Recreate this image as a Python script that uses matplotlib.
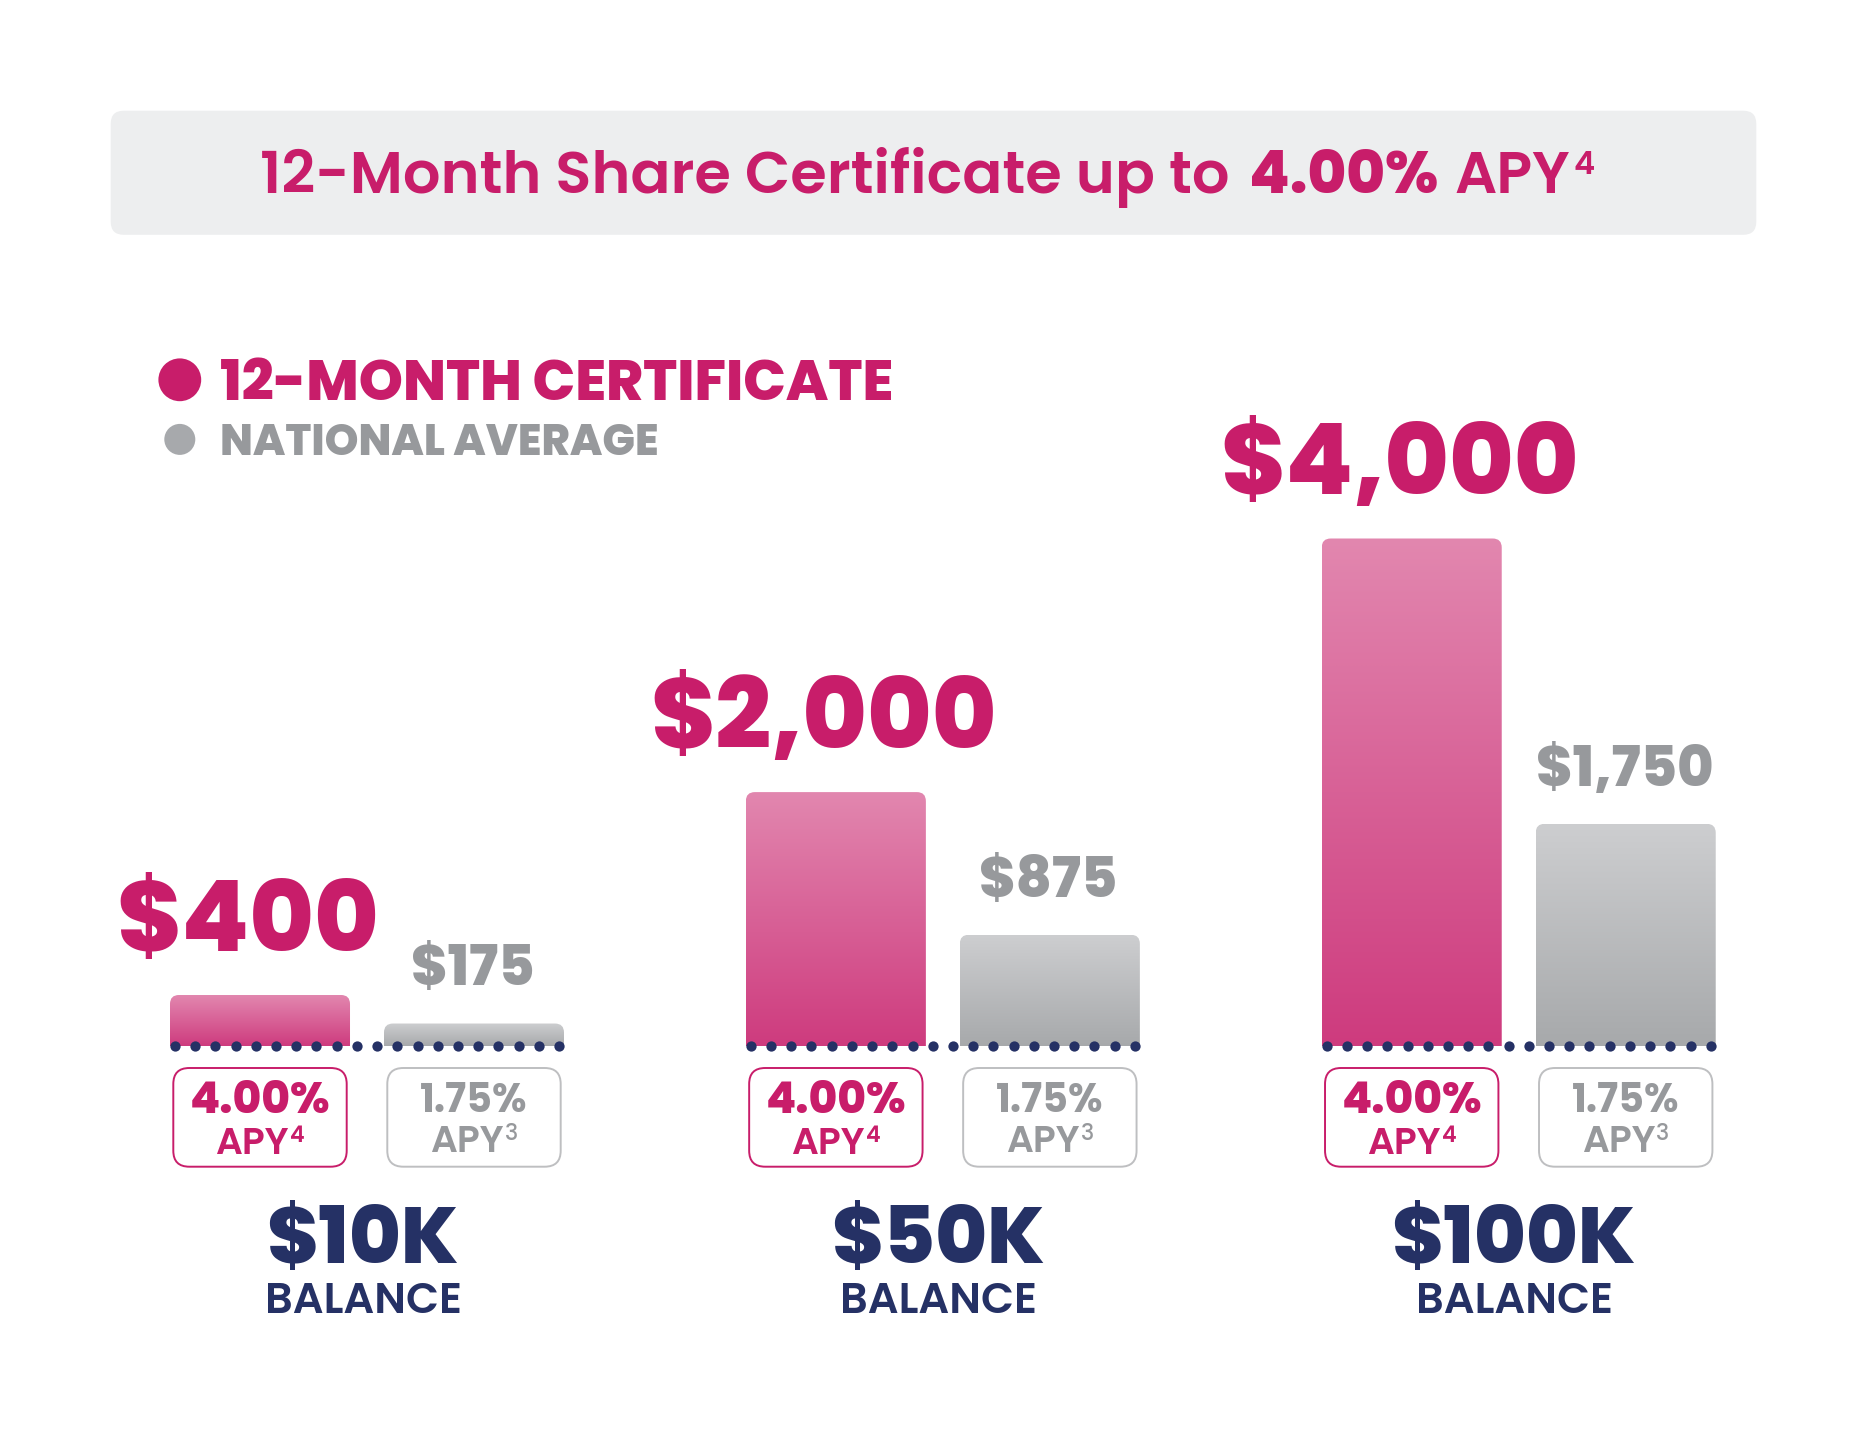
import numpy as np
import matplotlib
matplotlib.use("Agg")
import matplotlib.pyplot as plt
from matplotlib import font_manager as fm
from matplotlib.patches import FancyBboxPatch, Circle
from matplotlib.transforms import IdentityTransform
from matplotlib.colors import LinearSegmentedColormap

# ---------------- data ----------------
balances = ["$10K", "$50K", "$100K"]
cert_values = [400, 2000, 4000]
natl_values = [175, 875, 1750]
cert_labels = ["$400", "$2,000", "$4,000"]
natl_labels = ["$175", "$875", "$1,750"]
cert_rate = "4.00%"
natl_rate = "1.75%"
cert_note = "4"
natl_note = "3"
series_names = ["12-MONTH CERTIFICATE", "NATIONAL AVERAGE"]
title_main = "12-Month Share Certificate up to"
title_rate = "4.00%"
title_apy = "APY"
title_note = "4"
apy_word = "APY"
balance_word = "BALANCE"

# ---------------- style ----------------
MAGENTA = "#C81D6A"
NAVY = "#253165"
GRAY_TXT = "#97999C"
GRAY_DOT = "#A7A9AC"
GRAY_BOX = "#BEBFC1"
TITLE_BG = "#EDEEEF"
PINK_TOP, PINK_BOT = "#E287AF", "#CE3B7E"
GREY_TOP, GREY_BOT = "#CDCED0", "#A7A9AB"

names = {f.name for f in fm.fontManager.ttflist}
FAM = [f for f in ["Poppins", "Montserrat", "DejaVu Sans"] if f in names]

W, H = 1867, 1440
DPI = 100
fig = plt.figure(figsize=(W / DPI, H / DPI), dpi=DPI)
fig.patch.set_facecolor("white")
renderer = fig.canvas.get_renderer()
ID = IdentityTransform()


def ty(y_top):
    return H - y_top


def mk(s, size, weight, color):
    return fig.text(0, 0, s, transform=ID, fontsize=size, fontweight=weight,
                    color=color, family=FAM, ha="left", va="baseline")


def put_runs(x, y_top, runs, ha="center"):
    """Place differently styled pieces of one line side by side (ink widths)."""
    arts, widths = [], []
    for r in runs:
        t = mk(r["s"], r["size"], r.get("weight", "normal"), r["color"])
        arts.append(t)
        widths.append(t.get_window_extent(renderer).width)
    total = sum(widths) + sum(r.get("gap", 0) for r in runs[1:])
    cur = x - total / 2 if ha == "center" else x
    for i, (t, w, r) in enumerate(zip(arts, widths, runs)):
        if i > 0:
            cur += r.get("gap", 0)
        t.set_position((cur, ty(y_top) + r.get("dy", 0)))
        cur += w
    return total


# ---------------- title band ----------------
fig.add_artist(FancyBboxPatch((110.7, ty(234.8)), 1645.6, 124.1,
                              boxstyle="round,pad=0,rounding_size=13",
                              transform=ID, facecolor=TITLE_BG, edgecolor="none"))
put_runs(927.4, 192.7, [
    dict(s=title_main, size=42.5, weight=600, color=MAGENTA),
    dict(s=title_rate, size=42.5, weight=800, color=MAGENTA, gap=19),
    dict(s=title_apy, size=42.5, weight=600, color=MAGENTA, gap=17),
    dict(s=title_note, size=23, weight=600, color=MAGENTA, gap=3, dy=19),
])

# ---------------- legend ----------------
fig.add_artist(Circle((179.8, ty(379.8)), 21.4, transform=ID, facecolor=MAGENTA, edgecolor="none"))
fig.add_artist(Circle((179.8, ty(439.4)), 15.5, transform=ID, facecolor=GRAY_DOT, edgecolor="none"))
put_runs(220.3, 400.0, [dict(s=series_names[0], size=40.5, weight=800, color=MAGENTA)], ha="left")
put_runs(220.3, 454.8, [dict(s=series_names[1], size=31, weight=800, color=GRAY_TXT)], ha="left")

# ---------------- bars ----------------
ax = fig.add_axes([0, ty(1045.7) / H, 1, 1045.7 / H])
ax.axis("off")
XL = (-0.6373, 2.6048)
YL = (0, 1045.7 / 0.1268)
ax.set_xlim(*XL)
ax.set_ylim(*YL)

x = np.arange(len(balances))
off, bw = 0.1858, 0.3126
pbars = ax.bar(x - off, cert_values, bw, color="none", edgecolor="none")
gbars = ax.bar(x + off, natl_values, bw, color="none", edgecolor="none")

pxx = W / (XL[1] - XL[0])          # pixels per x unit
pxy = 1045.7 / (YL[1] - YL[0])     # pixels per y unit


def grad_bar(rect, c_top, c_bot):
    x0, w, h = rect.get_x(), rect.get_width(), rect.get_height()
    rpx = 9
    rx, ry = rpx / pxx, rpx / pxy
    patch = FancyBboxPatch((x0, -2 * ry), w, h + 2 * ry,
                           boxstyle=f"round,pad=0,rounding_size={rx}",
                           mutation_aspect=ry / rx, facecolor="none",
                           edgecolor="none", transform=ax.transData)
    ax.add_patch(patch)
    cmap = LinearSegmentedColormap.from_list("g", [c_bot, c_top])
    grad = np.linspace(0, 1, 256).reshape(-1, 1)
    im = ax.imshow(grad, cmap=cmap, extent=(x0, x0 + w, 0, h), origin="lower",
                   aspect="auto", interpolation="bilinear", zorder=2)
    im.set_clip_path(patch)


for r in pbars:
    grad_bar(r, PINK_TOP, PINK_BOT)
for r in gbars:
    grad_bar(r, GREY_TOP, GREY_BOT)
ax.set_xlim(*XL)
ax.set_ylim(*YL)

# dotted baseline
for i in range(len(balances)):
    left = pbars[i].get_x() + 5 / pxx
    right = gbars[i].get_x() + gbars[i].get_width() - 5 / pxx
    xs = np.linspace(left, right, 20)
    ax.plot(xs, np.zeros_like(xs), "o", ms=7.4, color=NAVY, mew=0,
            clip_on=False, zorder=4)

# value labels
for i in range(len(balances)):
    ax.annotate(cert_labels[i], xy=(x[i] - off, cert_values[i]),
                xytext=(-9, 31.7), textcoords="offset points", ha="center",
                va="baseline", fontsize=71, fontweight=800, color=MAGENTA,
                family=FAM, annotation_clip=False)
    ax.annotate(natl_labels[i], xy=(x[i] + off, natl_values[i]),
                xytext=(-1, 27.4), textcoords="offset points", ha="center",
                va="baseline", fontsize=40, fontweight=800, color=GRAY_TXT,
                family=FAM, annotation_clip=False)

# ---------------- rate boxes and balance labels ----------------
for i in range(len(balances)):
    cx_p = ax.transData.transform((x[i] - off, 0))[0]
    cx_g = ax.transData.transform((x[i] + off, 0))[0]
    cx = ax.transData.transform((x[i], 0))[0]
    for cxx, ec in ((cx_p, MAGENTA), (cx_g, GRAY_BOX)):
        fig.add_artist(FancyBboxPatch((cxx - 86.7, ty(1166.7)), 173.4, 98.7,
                                      boxstyle="round,pad=0,rounding_size=16",
                                      transform=ID, facecolor="white",
                                      edgecolor=ec, linewidth=1.4))
    put_runs(cx_p, 1113, [dict(s=cert_rate, size=31.5, weight=800, color=MAGENTA)])
    put_runs(cx_p, 1154, [dict(s=apy_word, size=27, weight=600, color=MAGENTA),
                          dict(s=cert_note, size=16, weight=600, color=MAGENTA, gap=1, dy=12)])
    put_runs(cx_g, 1112, [dict(s=natl_rate, size=28.5, weight=700, color=GRAY_TXT)])
    put_runs(cx_g, 1152, [dict(s=apy_word, size=27, weight=600, color=GRAY_TXT),
                          dict(s=natl_note, size=16, weight=500, color=GRAY_TXT, gap=1, dy=12)])
    put_runs(cx - 5, 1263, [dict(s=balances[i], size=57, weight=800, color=NAVY)])
    put_runs(cx - 4, 1313, [dict(s=balance_word, size=31, weight=600, color=NAVY)])

fig.savefig("out.png", dpi=DPI, facecolor="white")
